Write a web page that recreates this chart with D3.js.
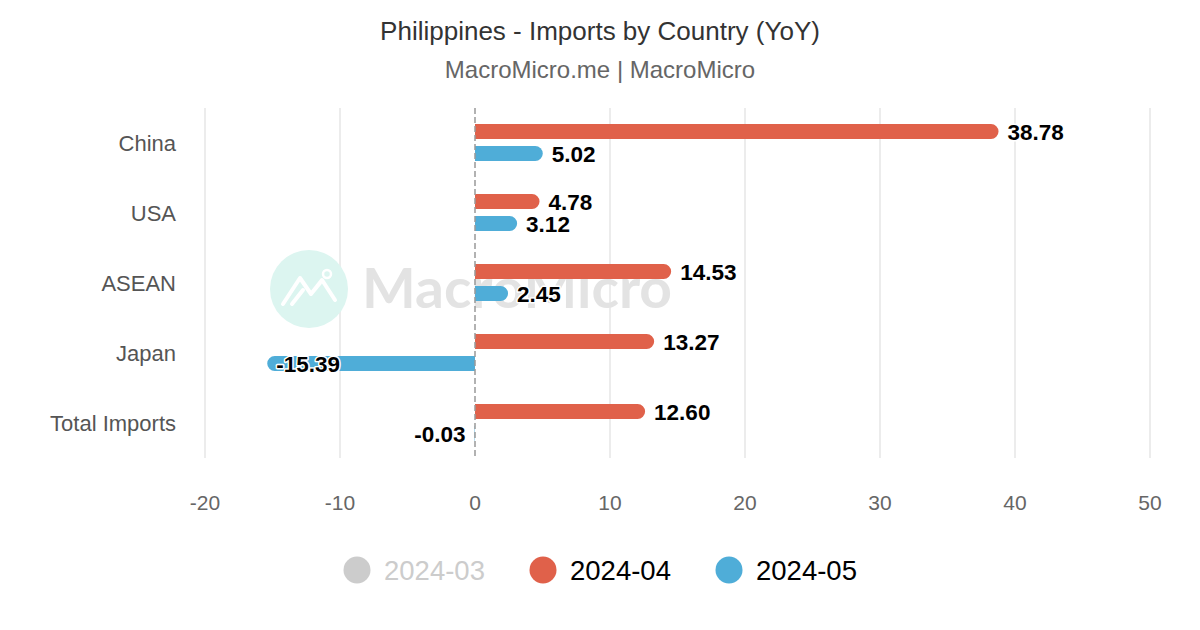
<!DOCTYPE html>
<html><head><meta charset="utf-8">
<script src="https://cdn.jsdelivr.net/npm/d3@7/dist/d3.min.js"></script>
<style>body{margin:0;background:#fff;font-family:"Liberation Sans",Arial,sans-serif;}</style>
</head><body><svg id="c" width="1200" height="630"></svg>
<script>
const categories = ["China","USA","ASEAN","Japan","Total Imports"];
const seriesNames = ["2024-03","2024-04","2024-05"];
const seriesColors = ["#cccccc","#e0614a","#4fadd8"];
const seriesVisible = [false,true,true];
const values0403 = [null,null,null,null,null];
const values0404 = [38.78,4.78,14.53,13.27,12.60];
const values0405 = [5.02,3.12,2.45,-15.39,-0.03];
const xTicks = [-20,-10,0,10,20,30,40,50];

const svg = d3.select("#c");
const x = d3.scaleLinear().domain([-20,50]).range([205,1150]);
const y = d3.scaleBand().domain(categories).range([108,458]);

// title
svg.append("text").attr("x",600).attr("y",40).attr("text-anchor","middle")
  .attr("font-size",26).attr("fill","#333").text("Philippines - Imports by Country (YoY)");
svg.append("text").attr("x",600).attr("y",78).attr("text-anchor","middle")
  .attr("font-size",24).attr("fill","#666").text("MacroMicro.me | MacroMicro");

// grid
svg.append("g").selectAll("line").data(xTicks.filter(d=>d!==0)).join("line")
  .attr("x1",d=>x(d)).attr("x2",d=>x(d)).attr("y1",108).attr("y2",458)
  .attr("stroke","#e6e6e6").attr("stroke-width",1.5);

// watermark
const wm = svg.append("g");
wm.append("circle").attr("cx",309).attr("cy",289).attr("r",39).attr("fill","#dcf5f0");
wm.append("path").attr("d","M283,304 L300,278 L311,294 L322,280 L335,300 M292,304 L303,290 M311,294 L320,283")
  .attr("fill","none").attr("stroke","#fff").attr("stroke-width",4).attr("stroke-linecap","round").attr("stroke-linejoin","round");
wm.append("circle").attr("cx",327).attr("cy",274).attr("r",4).attr("fill","none").attr("stroke","#fff").attr("stroke-width",2.5);
wm.append("text").attr("x",362).attr("y",308).attr("font-size",56)
  .attr("fill","#e3e3e3").attr("font-family","Lato, 'Open Sans', sans-serif").attr("font-weight","bold")
  .attr("textLength",310).attr("lengthAdjust","spacingAndGlyphs").text("MacroMicro");

// x axis labels
svg.append("g").selectAll("text").data(xTicks).join("text")
  .attr("x",d=>x(d)).attr("y",510).attr("text-anchor","middle")
  .attr("font-size",21).attr("fill","#666").text(d=>d);

// category labels
svg.append("g").selectAll("text").data(categories).join("text")
  .attr("x",176).attr("y",d=>y(d)+y.bandwidth()/2+8).attr("text-anchor","end")
  .attr("font-size",22).attr("fill","#555").text(d=>d);

// bars
const barH = 15;
function barPath(v, yc){
  const x0 = x(0), x1 = x(v);
  const t = yc - barH/2, b = yc + barH/2;
  const r = Math.min(barH/2, Math.abs(x1-x0));
  if (v >= 0) {
    return `M${x0},${t} L${x1-r},${t} A${r},${r} 0 0 1 ${x1},${t+r} L${x1},${b-r} A${r},${r} 0 0 1 ${x1-r},${b} L${x0},${b} Z`;
  } else {
    return `M${x0},${t} L${x1+r},${t} A${r},${r} 0 0 0 ${x1},${t+r} L${x1},${b-r} A${r},${r} 0 0 0 ${x1+r},${b} L${x0},${b} Z`;
  }
}
const shown = [
  {vals:values0404, color:seriesColors[1], off:-11.5},
  {vals:values0405, color:seriesColors[2], off:10.5}
];
const bars = svg.append("g"), labels = svg.append("g");
shown.forEach(s=>{
  categories.forEach((c,i)=>{
    const v = s.vals[i];
    const yc = y(c)+y.bandwidth()/2 + s.off;
    bars.append("path").attr("d",barPath(v,yc)).attr("fill",s.color);
    let lx, anchor;
    if (v >= 0) { lx = x(v)+9; anchor="start"; }
    else {
      lx = x(v)-9; anchor="end";
      if (lx - 75 < 205) { lx = x(v)+9; anchor="start"; }
    }
    labels.append("text").attr("x",lx).attr("y",yc+8).attr("text-anchor",anchor)
      .attr("font-size",22.5).attr("font-weight","bold").attr("fill","#000")
      .attr("stroke","#fff").attr("stroke-width",3).attr("paint-order","stroke")
      .attr("stroke-linejoin","round").text(v.toFixed(2));
  });
});

// zero line
svg.append("line").attr("x1",x(0)).attr("x2",x(0)).attr("y1",108).attr("y2",458)
  .attr("stroke","#999").attr("stroke-width",1.5).attr("stroke-dasharray","6,3");
labels.raise();

// legend
const lg = svg.append("g");
const legX = [357,543,729];
seriesNames.forEach((n,i)=>{
  lg.append("circle").attr("cx",legX[i]).attr("cy",570).attr("r",13.5).attr("fill",seriesColors[i]);
  lg.append("text").attr("x",legX[i]+27).attr("y",580).attr("font-size",27.5)
    .attr("fill",seriesVisible[i]?"#000":"#cccccc").text(n);
});
</script></body></html>
